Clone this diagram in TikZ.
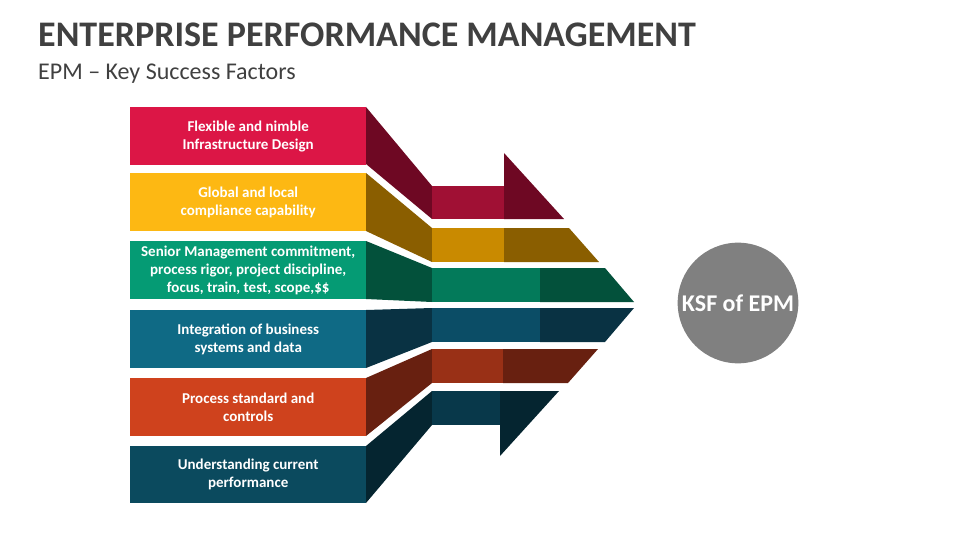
\documentclass[tikz,border=0pt]{standalone}
\usepackage{fontspec}
\setmainfont{Carlito}
\begin{document}
\begin{tikzpicture}[x=1pt,y=-1pt,
  box/.style={minimum width=236pt,minimum height=58pt,anchor=north west,inner sep=0pt,align=center,text=white,font=\bfseries\fontsize{15}{18}\selectfont},
  nop/.style={draw=none}]
\useasboundingbox (0,0) rectangle (960,540);
\node[anchor=west,inner sep=0pt,text=black!75,font=\bfseries\fontsize{36}{40}\selectfont] (title) at (38,35) {ENTERPRISE PERFORMANCE MANAGEMENT};
\node[anchor=west,inner sep=0pt,text=black!75,font=\fontsize{24}{28}\selectfont] (sub) at (38,74) {EPM – Key Success Factors};
% row colors
\definecolor{c1}{HTML}{DC1646}\definecolor{m1}{HTML}{A01034}\definecolor{d1}{HTML}{6E0823}
\definecolor{c2}{HTML}{FDB813}\definecolor{m2}{HTML}{C98A00}\definecolor{d2}{HTML}{8A5E00}
\definecolor{c3}{HTML}{059B74}\definecolor{m3}{HTML}{037A5A}\definecolor{d3}{HTML}{03513B}
\definecolor{c4}{HTML}{0F6A85}\definecolor{m4}{HTML}{0B4D66}\definecolor{d4}{HTML}{093243}
\definecolor{c5}{HTML}{CF421D}\definecolor{m5}{HTML}{993016}\definecolor{d5}{HTML}{682010}
\definecolor{c6}{HTML}{0B4A5E}\definecolor{m6}{HTML}{08384A}\definecolor{d6}{HTML}{052530}
% connectors
\fill[d1] (366,107) -- (432,186) -- (432,219) -- (366,164) -- cycle;
\fill[d2] (366,173) -- (432,228) -- (432,262) -- (366,231) -- cycle;
\fill[d3] (366,241) -- (432,268) -- (432,302) -- (366,299) -- cycle;
\fill[d4] (366,310) -- (432,308) -- (432,342) -- (366,368) -- cycle;
\fill[d5] (366,378) -- (432,349) -- (432,383) -- (366,436) -- cycle;
\fill[d6] (366,446) -- (432,391) -- (432,425) -- (366,503) -- cycle;
% middle
\fill[m1] (432,186) rectangle (504,219);
\fill[m2] (432,228) rectangle (504,262);
\fill[m3] (432,268) rectangle (540,302);
\fill[m4] (432,308) rectangle (540,342);
\fill[m5] (432,349) rectangle (503,383);
\fill[m6] (432,391) rectangle (500,425);
% heads
\fill[d1] (504,153) -- (564,219) -- (504,219) -- cycle;
\fill[d2] (504,228) -- (569,228) -- (599,262) -- (504,262) -- cycle;
\fill[d3] (540,268) -- (605,268) -- (634,302) -- (540,302) -- cycle;
\fill[d4] (540,308) -- (634,308) -- (605,342) -- (540,342) -- cycle;
\fill[d5] (503,349) -- (598,349) -- (568,383) -- (503,383) -- cycle;
\fill[d6] (500,391) -- (559,391) -- (500,456) -- cycle;
% boxes
\node[box,fill=c1] (b1) at (130,107) {Flexible and nimble\\Infrastructure Design};
\node[box,fill=c2] (b2) at (130,173) {Global and local\\compliance capability};
\node[box,fill=c3] (b3) at (130,241) {Senior Management commitment,\\process rigor, project discipline,\\focus, train, test, scope,\$\$};
\node[box,fill=c4] (b4) at (130,310) {Integration of business\\systems and data};
\node[box,fill=c5] (b5) at (130,378) {Process standard and\\controls};
\node[box,fill=c6,minimum height=57pt] (b6) at (130,446) {Understanding current\\performance};
\node[circle,fill=black!50,minimum size=120pt,text=white,font=\bfseries\fontsize{24}{28}\selectfont] (k) at (738,303) {KSF of EPM};
\end{tikzpicture}
\end{document}
